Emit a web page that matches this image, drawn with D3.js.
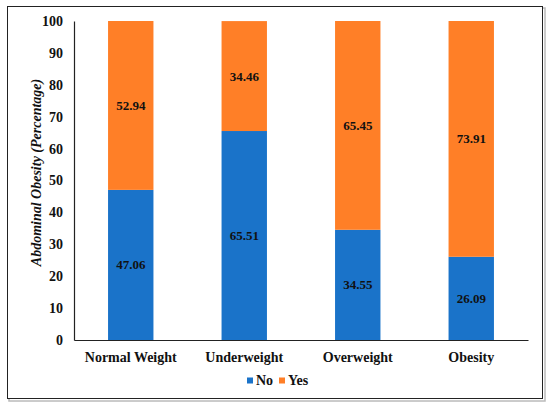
<!DOCTYPE html>
<html>
<head>
<meta charset="utf-8">
<script src="https://cdn.jsdelivr.net/npm/d3@7"></script>
<style>
  body { margin: 0; background: #fff; }
  svg text { font-family: "Times New Roman", "Liberation Serif", serif; }
</style>
</head>
<body>
<svg id="chart" width="550" height="406"></svg>
<script>
const categories = ["Normal Weight", "Underweight", "Overweight", "Obesity"];
const noValues = [47.06, 65.51, 34.55, 26.09];
const yesValues = [52.94, 34.46, 65.45, 73.91];
const seriesNames = ["No", "Yes"];
const yTicks = [0, 10, 20, 30, 40, 50, 60, 70, 80, 90, 100];

const colors = { No: "#1A73C9", Yes: "#FF7F27" };

const margin = { top: 21, right: 22, bottom: 66, left: 74 },
      width = 550 - margin.left - margin.right,
      height = 406 - margin.top - margin.bottom;

const root = d3.select("#chart");

// frame with a light shadow on right/bottom
root.append("rect")
  .attr("x", 9).attr("y", 8)
  .attr("width", 536).attr("height", 393)
  .attr("fill", "none").attr("stroke", "#bbb").attr("stroke-width", 1.5);
root.append("rect")
  .attr("x", 7.5).attr("y", 6.5)
  .attr("width", 535).attr("height", 392)
  .attr("fill", "#fff").attr("stroke", "#222").attr("stroke-width", 1);

const svg = root.append("g")
  .attr("transform", `translate(${margin.left},${margin.top})`);

const x = d3.scaleBand().domain(categories).range([0, width])
  .paddingInner(0.6).paddingOuter(0.3);
const y = d3.scaleLinear().domain([0, 100]).range([height, 0]);

const data = categories.map((c, i) => ({ cat: c, No: noValues[i], Yes: yesValues[i] }));
const stacked = d3.stack().keys(seriesNames)(data);

// bars
svg.selectAll(".series")
  .data(stacked)
  .enter()
  .append("g")
  .attr("fill", d => colors[d.key])
  .selectAll("rect")
  .data(d => d)
  .enter()
  .append("rect")
  .attr("x", d => x(d.data.cat))
  .attr("width", x.bandwidth())
  .attr("y", d => y(d[1]))
  .attr("height", d => y(d[0]) - y(d[1]));

// value labels
stacked.forEach(s => {
  svg.selectAll(".lbl-" + s.key)
    .data(s)
    .enter()
    .append("text")
    .attr("x", d => x(d.data.cat) + x.bandwidth() / 2)
    .attr("y", d => (y(d[0]) + y(d[1])) / 2)
    .attr("dy", "0.35em")
    .attr("text-anchor", "middle")
    .style("font-size", "13px")
    .style("font-weight", "bold")
    .attr("fill", "#111")
    .text(d => d.data[s.key].toFixed(2));
});

// y axis
const yAxis = svg.append("g")
  .call(d3.axisLeft(y).tickValues(yTicks).tickSize(0).tickPadding(11));
yAxis.select(".domain").attr("stroke", "#222").attr("stroke-width", 1.2);
yAxis.selectAll("text")
  .style("font-size", "14px")
  .style("font-weight", "bold")
  .attr("fill", "#111");

// x axis
const xAxis = svg.append("g")
  .attr("transform", `translate(0,${height})`)
  .call(d3.axisBottom(x).tickSize(0).tickPadding(12));
xAxis.select(".domain").attr("stroke", "#222").attr("stroke-width", 1.2);
xAxis.selectAll("text")
  .style("font-size", "14px")
  .style("font-weight", "bold")
  .attr("fill", "#111");

// y axis title
svg.append("text")
  .attr("transform", "rotate(-90)")
  .attr("x", -151.5)
  .attr("y", -33)
  .attr("text-anchor", "middle")
  .style("font-size", "14px")
  .style("font-weight", "bold")
  .style("font-style", "italic")
  .attr("fill", "#111")
  .text("Abdominal Obesity (Percentage)");

// legend
const legend = root.append("g").attr("transform", "translate(247,380)");
const items = legend.selectAll("g")
  .data(seriesNames)
  .enter()
  .append("g")
  .attr("transform", (d, i) => `translate(${i * 32},0)`);
items.append("rect")
  .attr("x", 0).attr("y", -2.5)
  .attr("width", 6).attr("height", 6)
  .attr("fill", d => colors[d]);
items.append("text")
  .attr("x", 9).attr("y", 0.5)
  .attr("dy", "0.35em")
  .style("font-size", "14px")
  .style("font-weight", "bold")
  .attr("fill", "#111")
  .text(d => d);
</script>
</body>
</html>
